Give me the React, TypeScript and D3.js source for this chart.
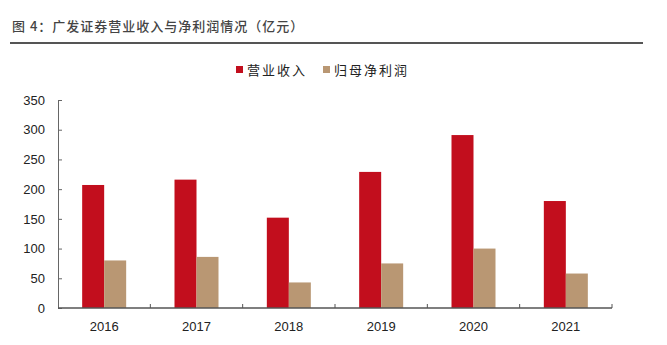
import React, { useEffect, useRef } from "react";
import * as d3 from "d3";

const years = ["2016", "2017", "2018", "2019", "2020", "2021"];
const revenue = [207, 216, 152, 229, 291, 180];
const netProfit = [80, 86, 43, 75, 100, 58];
const yTicks = [0, 50, 100, 150, 200, 250, 300, 350];
const seriesNames = ["营业收入", "归母净利润"];
const colors = ["#C20E1D", "#B99773"];

const App = () => {
  const svgRef = useRef<SVGSVGElement>(null);

  useEffect(() => {
    const width = 667;
    const height = 345;
    const svg = d3.select(svgRef.current);
    svg.selectAll("*").remove();

    const cjk = "'Noto Sans CJK SC', sans-serif";

    // title + rule
    svg.append("text")
      .attr("x", 12).attr("y", 31)
      .attr("font-family", cjk).attr("font-size", 13).attr("font-weight", 500)
      .attr("letter-spacing", 1)
      .attr("fill", "#444")
      .text("图 4：广发证券营业收入与净利润情况（亿元）");
    svg.append("line")
      .attr("x1", 10).attr("x2", 643).attr("y1", 43).attr("y2", 43)
      .attr("stroke", "#555").attr("stroke-width", 2);

    const x = d3.scaleBand().domain(years).range([58, 612]);
    const y = d3.scaleLinear().domain([0, 350]).range([308, 100]);
    const sub = d3.scaleBand().domain(["0", "1"]).range([0, 44]);

    // legend
    const legend = svg.append("g").attr("font-family", cjk).attr("font-size", 13).attr("fill", "#222");
    const lx = [236, 323];
    seriesNames.forEach((name, i) => {
      legend.append("rect").attr("x", lx[i]).attr("y", 66).attr("width", 7).attr("height", 7).attr("fill", colors[i]);
      legend.append("text").attr("x", lx[i] + 11).attr("y", 75).attr("letter-spacing", 2).text(name);
    });

    // bars
    const data = [revenue, netProfit];
    data.forEach((vals, s) => {
      svg.append("g").selectAll("rect")
        .data(vals)
        .join("rect")
        .attr("x", (_d, i) => (x(years[i]) as number) + x.bandwidth() / 2 - 22 + (sub(String(s)) as number))
        .attr("y", d => y(d))
        .attr("width", sub.bandwidth())
        .attr("height", d => y(0) - y(d))
        .attr("fill", colors[s]);
    });

    // y axis
    const ya = svg.append("g").attr("transform", "translate(58,0)")
      .call(d3.axisLeft(y).tickValues(yTicks).tickSize(-4).tickPadding(13));
    ya.select(".domain").attr("stroke", "#666");
    ya.selectAll(".tick line").attr("stroke", "#666");
    ya.selectAll("text").attr("font-family", "Arial, 'Liberation Sans', sans-serif").attr("font-size", 13).attr("fill", "#222");

    // x axis
    const xa = svg.append("g").attr("transform", "translate(0,308)");
    xa.append("line").attr("x1", 58).attr("x2", 612).attr("stroke", "#555").attr("stroke-width", 1.3);
    const bounds = years.map(yr => (x(yr) as number) + x.bandwidth());
    xa.selectAll("line.tk").data(bounds).join("line").attr("class", "tk")
      .attr("x1", d => d).attr("x2", d => d).attr("y1", 0).attr("y2", -4).attr("stroke", "#555");
    xa.selectAll("text").data(years).join("text")
      .attr("x", d => (x(d) as number) + x.bandwidth() / 2)
      .attr("y", 23)
      .attr("text-anchor", "middle")
      .attr("font-family", "Arial, 'Liberation Sans', sans-serif").attr("font-size", 13).attr("fill", "#222")
      .text(d => d);

    svg.attr("width", width).attr("height", height);
  }, []);

  return (
    <svg
      ref={svgRef}
      width={667}
      height={345}
      style={{ position: "absolute", left: 0, top: 0, background: "#fff" }}
    />
  );
};

export default App;
